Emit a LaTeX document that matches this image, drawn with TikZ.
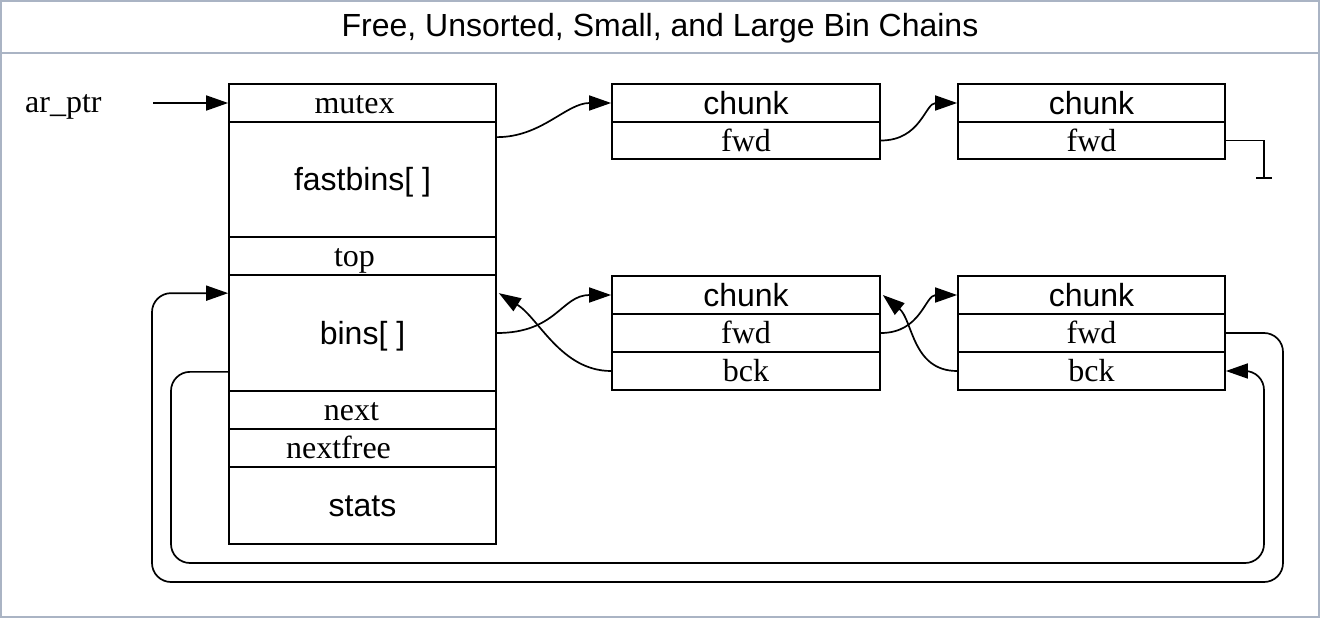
\documentclass[tikz,border=0pt]{standalone}
\usepackage{fontspec}
\setmainfont{Liberation Serif}
\newfontfamily\sansf{Liberation Sans}
\usetikzlibrary{arrows.meta}
\definecolor{framec}{HTML}{AAB4C4}
\tikzset{
  cell/.style={draw, line width=1.7pt, inner sep=0pt, text height=24pt, text depth=3pt,
    font=\fontsize{32}{36}\selectfont},
  scell/.style={draw, line width=1.7pt, inner sep=0pt, text height=26pt, text depth=4pt,
    font=\sansf\fontsize{32}{36}\selectfont},
  link/.style={line width=1.7pt},
  arr/.style={link, -{Triangle[length=22pt,width=15pt]}},
  loop/.style={arr, rounded corners=19pt},
}
\begin{document}
\begin{tikzpicture}[x=1pt,y=-1pt]
\useasboundingbox (0,0) rectangle (1320,618);
\draw[framec, line width=2pt] (1,1) rectangle (1319,617);
\draw[framec, line width=2pt] (0,53.5) -- (1320,53.5);
\node[anchor=base, inner sep=0pt, font=\sansf\fontsize{32}{34}\selectfont] (title) at (660,37) {Free, Unsorted, Small, and Large Bin Chains};

% arena structure
\node[cell,  minimum width=267pt, minimum height=38pt]  (mutex)    at (362.5,103)   {mutex\kern16pt};
\node[scell, minimum width=267pt, minimum height=115pt] (fastbins) at (362.5,179.5) {fastbins[ ]};
\node[cell,  minimum width=267pt, minimum height=38pt]  (top)      at (362.5,256)   {top\kern16pt};
\node[scell, minimum width=267pt, minimum height=116pt] (bins)     at (362.5,333)   {bins[ ]};
\node[cell,  minimum width=267pt, minimum height=38pt]  (next)     at (362.5,410)   {next\kern22pt};
\node[cell,  minimum width=267pt, minimum height=38pt]  (nextfree) at (362.5,448)   {nextfree\kern48pt};
\node[scell, minimum width=267pt, minimum height=77pt]  (stats)    at (362.5,505.5) {stats};

\node[anchor=base west, inner sep=0pt, font=\fontsize{32}{36}\selectfont] (arptr) at (25,112) {ar\_ptr};
\coordinate (arstart) at (153,103);
\draw[arr] (arstart) -- (mutex.west);

% fast bin chain
\node[scell, minimum width=268pt, minimum height=38pt] (a1chunk) at (746,103)   {chunk};
\node[cell,  minimum width=268pt, minimum height=37pt] (a1fwd)   at (746,140.5) {fwd};
\node[scell, minimum width=267pt, minimum height=38pt] (a2chunk) at (1091.5,103)   {chunk};
\node[cell,  minimum width=267pt, minimum height=37pt] (a2fwd)   at (1091.5,140.5) {fwd};

\draw[arr] ([yshift=-16pt]fastbins.north east) .. controls +(45,0) and +(-45,0) .. (a1chunk.west);
\draw[arr] (a1fwd.east) .. controls +(40,0) and +(-32,0) .. (a2chunk.west);
\coordinate (gnd) at (1264,178);
\draw[link] (a2fwd.east) -| (gnd);
\draw[link] (gnd) ++(-8,0) -- ++(16,0);

% bin chain
\node[scell, minimum width=268pt, minimum height=38pt] (b1chunk) at (746,295) {chunk};
\node[cell,  minimum width=268pt, minimum height=38pt] (b1fwd)   at (746,333) {fwd};
\node[cell,  minimum width=268pt, minimum height=38pt] (b1bck)   at (746,371) {bck};
\node[scell, minimum width=267pt, minimum height=38pt] (b2chunk) at (1091.5,295) {chunk};
\node[cell,  minimum width=267pt, minimum height=38pt] (b2fwd)   at (1091.5,333) {fwd};
\node[cell,  minimum width=267pt, minimum height=38pt] (b2bck)   at (1091.5,371) {bck};

\draw[arr] (bins.east) .. controls +(60,0) and +(-50,0) .. (b1chunk.west);
\draw[arr] (b1bck.west) .. controls +(-50,0) and +(40,25) .. ([xshift=2pt,yshift=-19pt]bins.north east);
\draw[arr] (b1fwd.east) .. controls +(40,0) and +(-32,0) .. (b2chunk.west);
\draw[arr] (b2bck.west) .. controls +(-45,0) and +(30,25) .. ([xshift=2pt]b1chunk.east);

% wrap-around links
\coordinate (oR) at (1283,582);
\coordinate (oL) at (152,582);
\draw[loop] (b2fwd.east) -| (oR) -- (oL) |- ([yshift=-19pt]bins.north west);
\coordinate (iL) at (171,563);
\coordinate (iR) at (1264,563);
\draw[loop] ([yshift=20pt]bins.south west) -| (iL) -- (iR) |- (b2bck.east);
\end{tikzpicture}
\end{document}
